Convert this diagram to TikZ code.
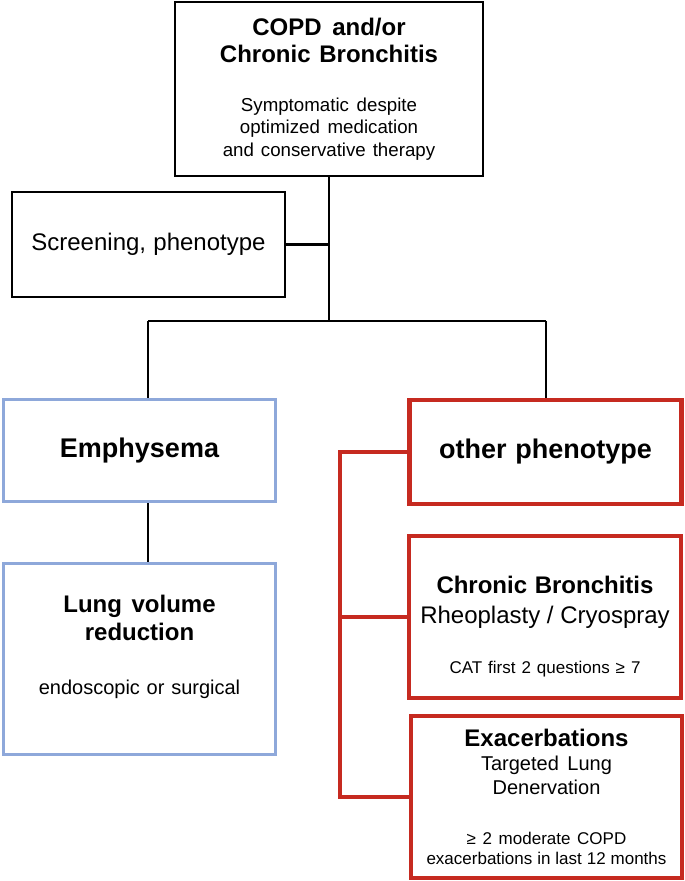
\documentclass[tikz,border=0pt]{standalone}
\usepackage{fontspec}
\setmainfont{Liberation Sans}
\usetikzlibrary{positioning}
\definecolor{redline}{HTML}{C62A20}
\definecolor{blueline}{HTML}{8EA8DA}
\newcommand{\widespace}{\spaceskip=0.26em plus 0.05em\relax\xspaceskip=\spaceskip}
\newcommand{\headfont}{\bfseries\fontsize{24}{28}\selectfont\widespace}
\newcommand{\bigfont}{\bfseries\fontsize{27}{30}\selectfont\widespace}
\newcommand{\bodyfont}{\fontsize{20}{24}\selectfont\widespace}
\newcommand{\smallfont}{\fontsize{17}{20}\selectfont\widespace}
% extra space below the text of a box (negative: text moves down)
\newcommand{\padbelow}[1]{\par\vspace{#1}\nointerlineskip\hbox{}}

\begin{document}
\begin{tikzpicture}[x=1pt,y=1pt,
    blackbox/.style={draw=black,line width=2.6pt,inner sep=0pt,align=center,text width=264pt},
    bluebox/.style={draw=blueline,line width=3pt,inner sep=0pt,align=center,text width=264pt},
    redbox/.style={draw=redline,line width=4.5pt,inner sep=0pt,align=center,text width=264pt},
    link/.style={black,line width=2.6pt},
    redlink/.style={redline,line width=4.5pt}]
  \useasboundingbox (0,0) rectangle (685,881);
  % boxes
  \node[blackbox,minimum width=308pt,minimum height=174pt,text width=300pt] (copd) at (329,792)
    {{\bfseries\fontsize{24}{27}\selectfont\widespace COPD and/or\\Chronic Bronchitis\par}\vspace{26.5pt}%
     {\fontsize{18.7}{22.5}\selectfont\widespace Symptomatic despite\\optimized medication\\and conservative therapy\par}};
  \node[blackbox,minimum width=273pt,minimum height=105pt] (screen) at (148.5,636.5)
    {\fontsize{24}{28}\selectfont\widespace Screening, phenotype};
  \node[bluebox,minimum width=272pt,minimum height=102pt] (emph) at (139.5,430)
    {\bigfont Emphysema};
  \node[bluebox,minimum width=272pt,minimum height=191pt] (lvr) at (139.5,222)
    {{\headfont Lung volume\\reduction\par}\vspace{30pt}%
     {\bodyfont endoscopic or surgical\par}\padbelow{24pt}};
  \node[redbox,minimum width=272pt,minimum height=104pt] (other) at (545.5,429)
    {\bigfont other phenotype};
  \node[redbox,minimum width=272pt,minimum height=162pt] (chronic) at (545,264)
    {{\headfont Chronic Bronchitis\par}\vspace{2pt}%
     {\fontsize{24}{28}\selectfont\widespace Rheoplasty / Cryospray\par}\vspace{30pt}%
     {\smallfont CAT first 2 questions ≥ 7\par}\padbelow{-19pt}};
  \node[redbox,minimum width=271pt,minimum height=162pt] (exac) at (546.5,84)
    {{\headfont Exacerbations\par}%
     {\bodyfont Targeted Lung\\Denervation\par}\vspace{30pt}%
     {\smallfont ≥ 2 moderate COPD\\exacerbations in last 12 months\par}};
  % tree lines
  \coordinate (barL) at (148,560);
  \coordinate (barR) at (546,560);
  \coordinate (hub) at (copd.south |- barL);
  \coordinate (rail) at (340,429);
  \draw[link] (copd.south) -- (hub);
  \draw[link] (screen.east) -- (screen.east -| hub);
  \draw[link] (barL) -- (barR);
  \draw[link] (barL) -- (barL |- emph.north);
  \draw[link] (barR) -- (barR |- other.north);
  \draw[link] (barL |- emph.south) -- (barL |- lvr.north);
  % red bracket
  \draw[redlink] (other.west) -- (rail) |- (exac.west);
  \draw[redlink] (chronic.west) -- (chronic.west -| rail);
\end{tikzpicture}
\end{document}
